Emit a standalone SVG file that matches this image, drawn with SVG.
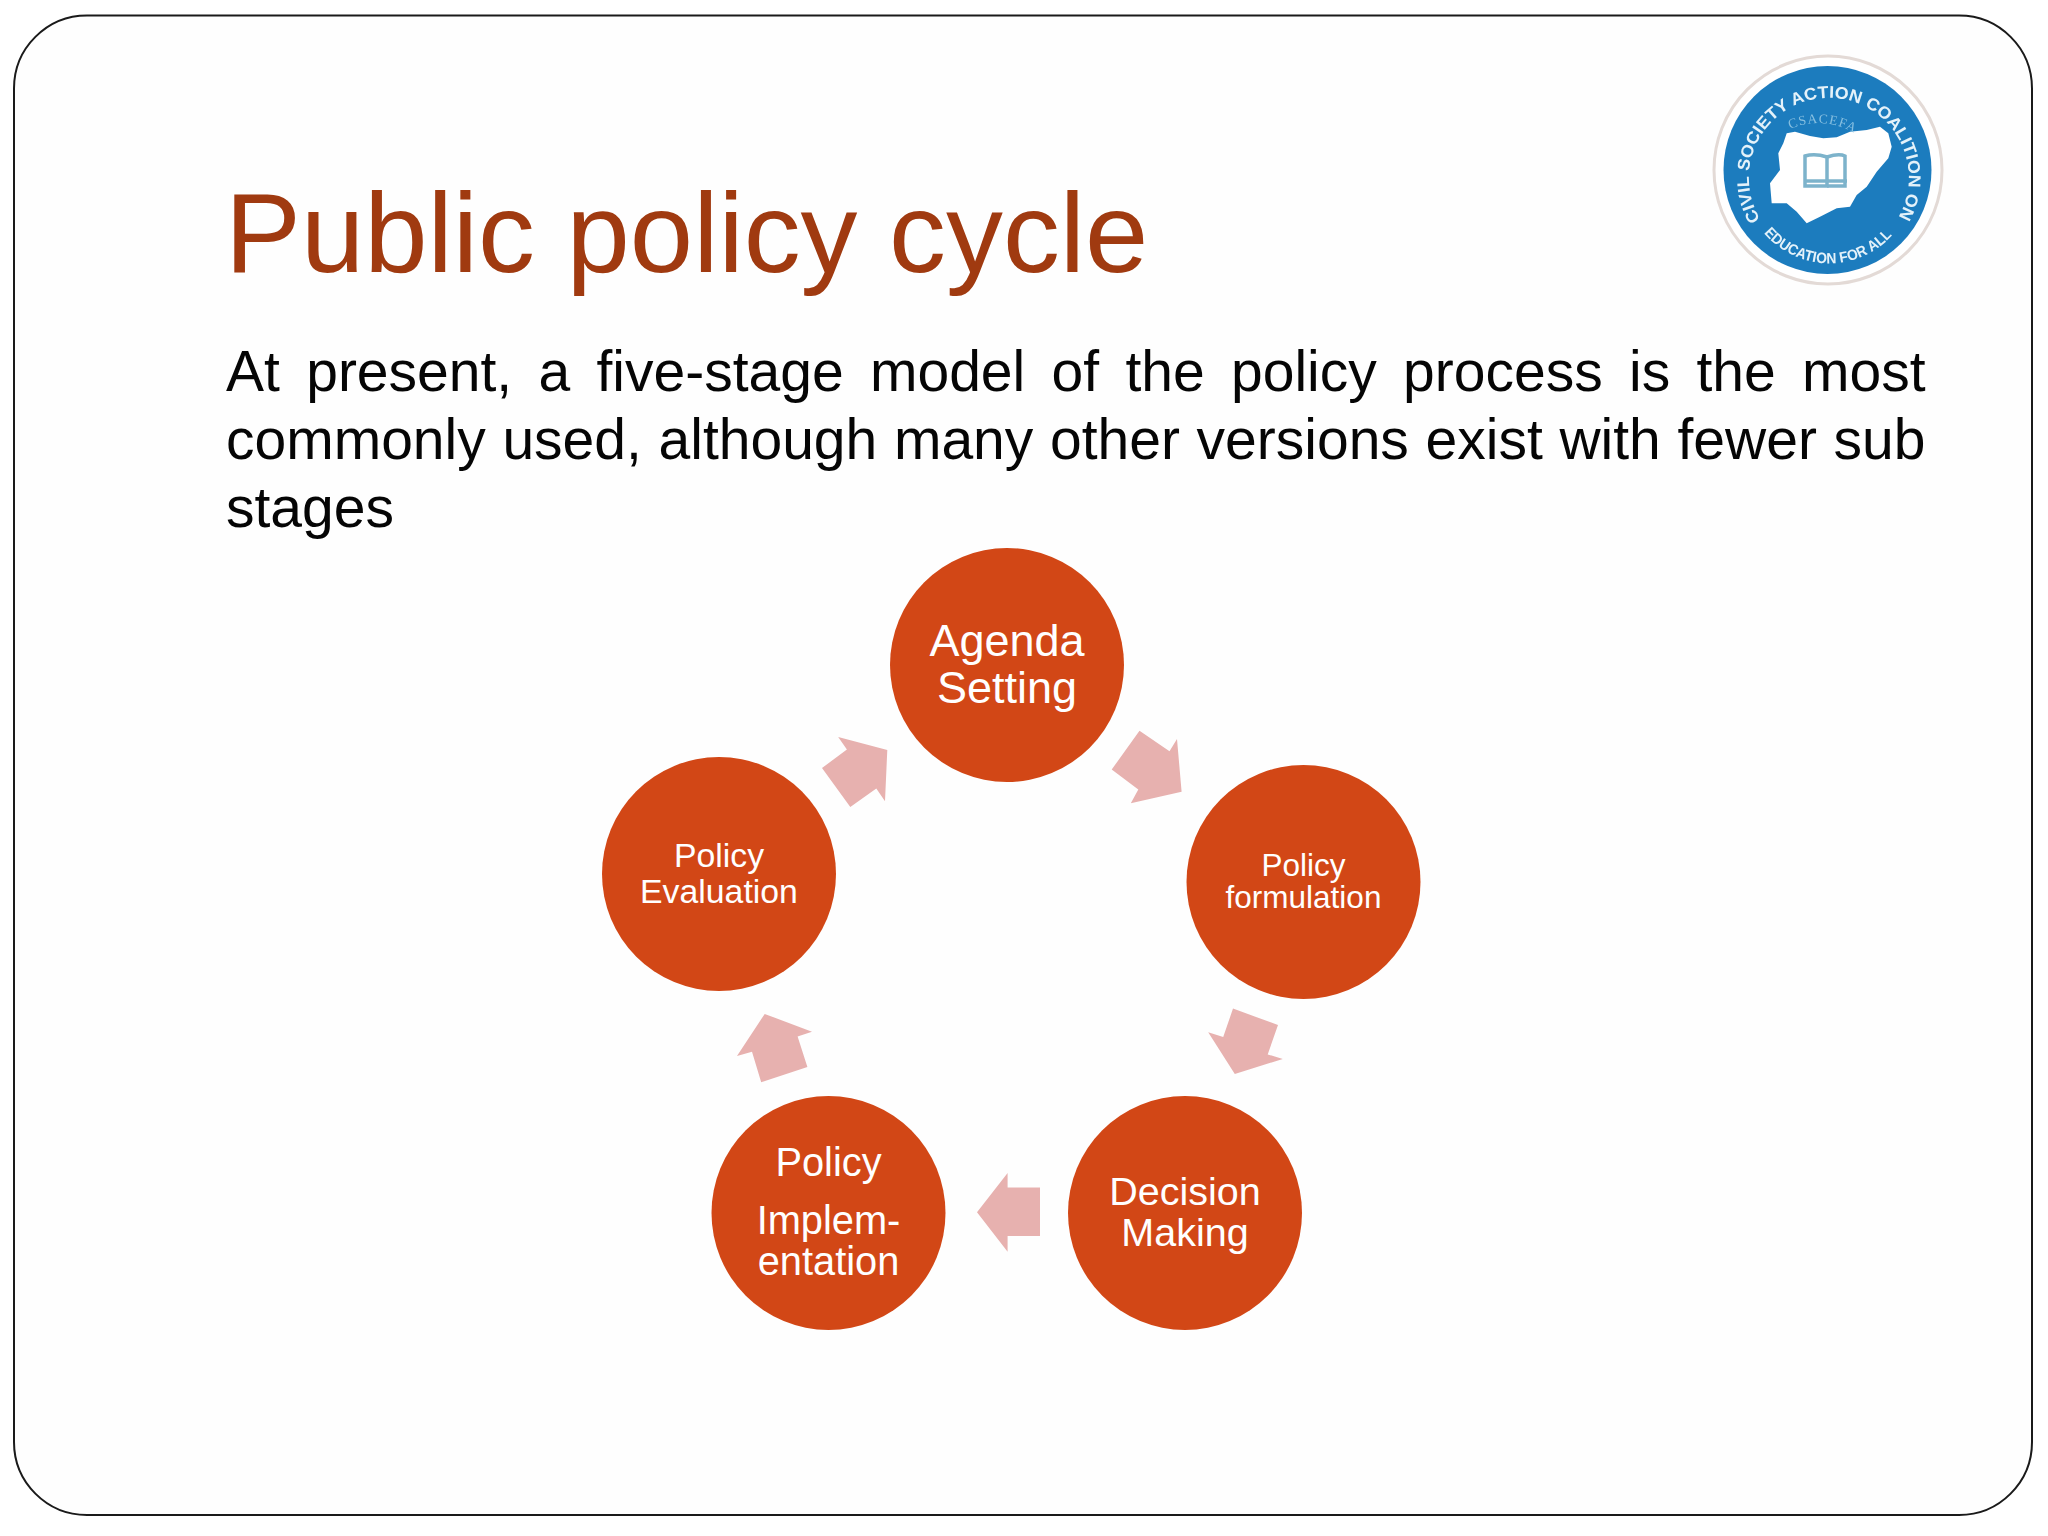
<svg xmlns="http://www.w3.org/2000/svg" width="2048" height="1536" viewBox="0 0 2048 1536">
<style>
text{font-family:"Liberation Sans",Arial,sans-serif}
.node{fill:#D24716}
.lbl{fill:#FFF;text-anchor:middle}
.arrow{fill:#E7B1AF}
.body{font-size:57px;fill:#050505}
.lg{font-weight:bold;fill:#E4F2FA}
</style>
<defs>
<filter id="soft" x="-5%" y="-5%" width="110%" height="110%"><feGaussianBlur stdDeviation="0.7"/></filter>
<path id="arcTop" d="M1760.500,219.500 A80,80 0 1 1 1898,218" fill="none"/>
<path id="arcBot" d="M1763.900,232.900 A85,85 0 0 0 1892.200,235.200" fill="none"/>
<path id="arcMid" d="M1790,129 A70,70 0 0 1 1860,137" fill="none"/>
</defs>
<rect width="2048" height="1536" fill="#FFF"/>
<rect x="14" y="15.500" width="2018" height="1499.500" rx="73" ry="73" fill="#FEFEFE" stroke="#1A1A1A" stroke-width="2"/>
<g id="logo" filter="url(#soft)">
<circle cx="1828" cy="170" r="114" fill="#FFF" stroke="#E3DAD6" stroke-width="3"/>
<circle cx="1827.500" cy="170" r="104" fill="#1D7CBE"/>
<polygon fill="#FFF" points="1786.700,133.300 1795,131.700 1810,136 1823.300,138.300 1836.700,137.300 1850,131.700 1866.700,130 1880,126.700 1888.300,133.300 1891.700,146.700 1888.300,158.300 1876.700,171.700 1866.700,186.700 1856.700,195 1850,206.700 1836.700,208.300 1820,216.700 1806.700,223.300 1796.700,211.700 1786.700,203.300 1771.700,203.300 1770,183.300 1780,170 1778.300,153.300 1783.300,143.300"/>
<g fill="none" stroke="#7DB3CB" stroke-width="3.500">
<path d="M1805,156 Q1815,153 1827,157 V186 H1805 Z"/>
<path d="M1827,157 Q1839,153 1845,156 V186 H1827"/>
<path d="M1804,181 H1847"/>
</g>
<text class="lg" font-size="17"><textPath href="#arcTop" textLength="336" lengthAdjust="spacingAndGlyphs">CIVIL SOCIETY ACTION COALITION ON</textPath></text>
<text class="lg" font-size="15"><textPath href="#arcBot" textLength="145" lengthAdjust="spacingAndGlyphs">EDUCATION FOR ALL</textPath></text>
<text font-size="13.500" fill="#86BFE0" style="font-family:'Liberation Serif',serif"><textPath href="#arcMid" textLength="66">CSACEFA</textPath></text>
</g>
<text id="title" x="225" y="272" font-size="113.800" fill="#A03A10">Public policy cycle</text>
<g id="body">
<text class="body" x="226" y="391" word-spacing="10.500">At present, a five-stage model of the policy process is the most</text>
<text class="body" x="226" y="459" word-spacing="0.850">commonly used, although many other versions exist with fewer sub</text>
<text class="body" x="226" y="527">stages</text>
</g>
<g id="connectors">
<polygon class="arrow" points="1139.500,730.700 1169.500,751.200 1177,739 1181.600,791.700 1130.800,803.300 1138.300,789.600 1111.700,769.600"/>
<polygon class="arrow" points="1233,1008.600 1278,1025 1267.700,1054.400 1282.800,1059 1234.800,1073.900 1208.200,1032.300 1223.200,1037"/>
<polygon class="arrow" points="1040,1187.600 1007.600,1187.600 1007.600,1172.900 977,1212.300 1007.600,1251.800 1007.600,1236 1040,1236"/>
<polygon class="arrow" points="807.400,1067 761.200,1082.300 752,1051.800 737,1056 764.700,1013.900 812,1031.800 797.600,1036.500"/>
<polygon class="arrow" points="822,768 846.900,749.600 838.200,737 887.300,750 885,801.200 876.300,788.600 850.300,807"/>
</g>
<g id="n-agenda"><circle class="node" cx="1007" cy="665" r="117"/><text class="lbl" font-size="45"><tspan x="1007" y="656">Agenda</tspan><tspan x="1007" y="703">Setting</tspan></text></g>
<g id="n-formulation"><circle class="node" cx="1303.500" cy="882" r="117"/><text class="lbl" font-size="31.500"><tspan x="1303.500" y="876">Policy</tspan><tspan x="1303.500" y="908">formulation</tspan></text></g>
<g id="n-decision"><circle class="node" cx="1185" cy="1213" r="117"/><text class="lbl" font-size="39.500"><tspan x="1185" y="1205">Decision</tspan><tspan x="1185" y="1246">Making</tspan></text></g>
<g id="n-implementation"><circle class="node" cx="828.500" cy="1213" r="117"/><text class="lbl" font-size="39.800"><tspan x="828.500" y="1176">Policy</tspan><tspan x="828.500" y="1234">Implem-</tspan><tspan x="828.500" y="1275">entation</tspan></text></g>
<g id="n-evaluation"><circle class="node" cx="719" cy="874" r="117"/><text class="lbl" font-size="33.800"><tspan x="719" y="867">Policy</tspan><tspan x="719" y="903">Evaluation</tspan></text></g>
</svg>
